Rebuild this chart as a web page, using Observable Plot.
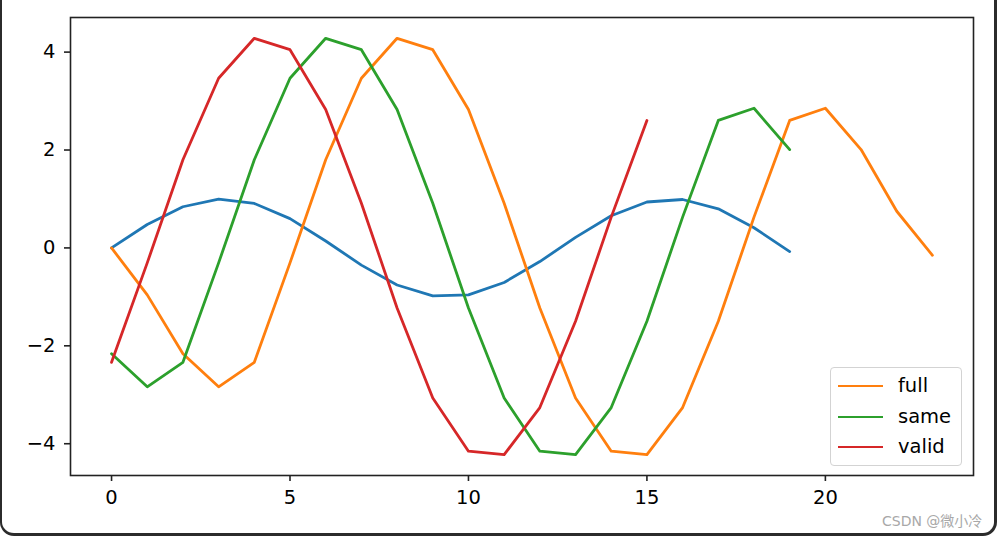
<!DOCTYPE html>
<html>
<head>
<meta charset="utf-8">
<script src="https://cdn.jsdelivr.net/npm/d3@7"></script>
<script src="https://cdn.jsdelivr.net/npm/@observablehq/plot@0.6"></script>
<style>
  html, body { margin: 0; padding: 0; background: #fff; }
  #wrap { position: relative; width: 997px; height: 536px; overflow: hidden; background: #fff; }
  #chart { position: absolute; left: 0; top: 0; }
  #border { position: absolute; left: 0; top: -20px; width: 997px; height: 556px; box-sizing: border-box;
            border-left: 2px solid #2b2b2b; border-right: 3px solid #2b2b2b; border-bottom: 3px solid #2b2b2b;
            border-bottom-left-radius: 14px; border-bottom-right-radius: 14px; pointer-events: none; }
  #legend { position: absolute; left: 830px; top: 367px; width: 132px; height: 99px; box-sizing: border-box;
            border: 1px solid #d3d3d3; border-radius: 4px; background: rgba(255,255,255,0.8);
            font-family: "DejaVu Sans", sans-serif; font-size: 19.5px; color: #000; }
  .entry { position: absolute; left: 0; height: 24px; width: 130px; }
  .swatch { position: absolute; left: 7px; top: 11px; width: 45px; height: 0; border-top: 2.8px solid; }
  .lab { position: absolute; left: 67px; top: 0; line-height: 24px; }
  #wm { position: absolute; left: 882px; top: 510px; font-family: "DejaVu Sans", "Noto Sans CJK SC", sans-serif;
        font-size: 14px; color: #a8a8a8; white-space: nowrap; }
</style>
</head>
<body>
<div id="wrap">
  <div id="chart"></div>
  <div id="legend"></div>
  <div id="wm">CSDN @微小冷</div>
  <div id="border"></div>
</div>
<script>
// signal (blue, unlabeled)
const signal = [0, 0.479, 0.841, 0.997, 0.909, 0.598, 0.141, -0.351, -0.757, -0.978,
                -0.959, -0.706, -0.279, 0.215, 0.657, 0.938, 0.989, 0.798, 0.412, -0.075];
const full = [0, -0.959, -2.162, -2.837, -2.337, -0.306, 1.800, 3.465, 4.282, 4.050,
              2.827, 0.912, -1.227, -3.065, -4.152, -4.223, -3.261, -1.499, 0.629, 2.604,
              2.853, 2.009, 0.749, -0.150];
const same = [-2.162, -2.837, -2.337, -0.306, 1.800, 3.465, 4.282, 4.050, 2.827, 0.912,
              -1.227, -3.065, -4.152, -4.223, -3.261, -1.499, 0.629, 2.604, 2.853, 2.009];
const valid = [-2.337, -0.306, 1.800, 3.465, 4.282, 4.050, 2.827, 0.912, -1.227, -3.065,
               -4.152, -4.223, -3.261, -1.499, 0.629, 2.604];
const xTicks = [0, 5, 10, 15, 20];
const yTicks = [-4, -2, 0, 2, 4];
const seriesNames = ["full", "same", "valid"];
const colors = {signal: "#1f77b4", full: "#ff7f0e", same: "#2ca02c", valid: "#d62728"};

const rows = [];
signal.forEach((v, i) => rows.push({s: "signal", x: i, y: v}));
full.forEach((v, i) => rows.push({s: "full", x: i, y: v}));
same.forEach((v, i) => rows.push({s: "same", x: i, y: v}));
valid.forEach((v, i) => rows.push({s: "valid", x: i, y: v}));

const chart = Plot.plot({
  width: 997,
  height: 536,
  marginLeft: 70,
  marginRight: 24,
  marginTop: 17,
  marginBottom: 61,
  style: {fontFamily: "DejaVu Sans, sans-serif", fontSize: "19.5px", color: "#000", background: "transparent"},
  x: {domain: [-1.15, 24.15]},
  y: {domain: [-4.649, 4.707]},
  marks: [
    Plot.line(rows.filter(d => d.s === "signal"), {x: "x", y: "y", stroke: colors.signal, strokeWidth: 2.8}),
    Plot.line(rows.filter(d => d.s === "full"), {x: "x", y: "y", stroke: colors.full, strokeWidth: 2.8}),
    Plot.line(rows.filter(d => d.s === "same"), {x: "x", y: "y", stroke: colors.same, strokeWidth: 2.8}),
    Plot.line(rows.filter(d => d.s === "valid"), {x: "x", y: "y", stroke: colors.valid, strokeWidth: 2.8}),
    Plot.frame({stroke: "#222", strokeWidth: 1.6}),
    Plot.axisX({ticks: xTicks, tickSize: 6, tickPadding: 9, label: null, stroke: "#222", strokeWidth: 1.6, tickFormat: d3.format("d")}),
    Plot.axisY({ticks: yTicks, tickSize: 6, tickPadding: 9, label: null, stroke: "#222", strokeWidth: 1.6, tickFormat: d3.format("d")})
  ]
});
document.getElementById("chart").appendChild(chart);

const legend = document.getElementById("legend");
seriesNames.forEach((name, i) => {
  const e = document.createElement("div");
  e.className = "entry";
  e.style.top = (6 + i * 30.5) + "px";
  const sw = document.createElement("div");
  sw.className = "swatch";
  sw.style.borderTopColor = colors[name];
  const lb = document.createElement("div");
  lb.className = "lab";
  lb.textContent = name;
  e.appendChild(sw); e.appendChild(lb);
  legend.appendChild(e);
});
</script>
</body>
</html>
